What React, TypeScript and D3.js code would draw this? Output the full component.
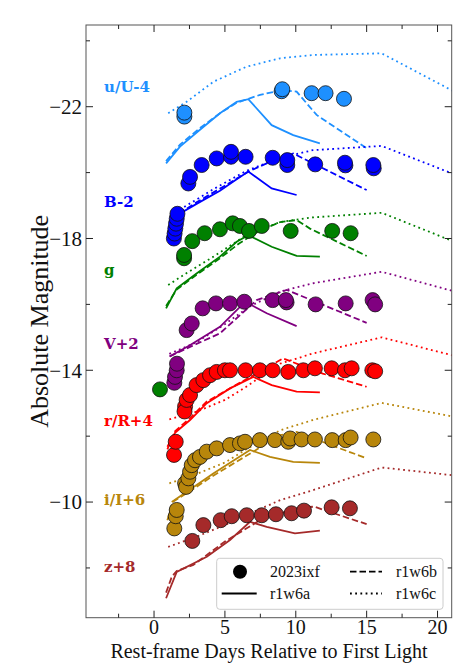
import React, { useEffect, useRef } from 'react';
import * as d3 from 'd3';

type Pt = [number, number];

// observed 2023ixf photometry (day, offset magnitude)
const U_OBS: Pt[] = [[2.14, -21.7], [2.14, -21.82], [9.0, -22.47], [9.05, -22.53], [11.12, -22.41], [12.1, -22.41], [13.4, -22.24]];
const B_OBS: Pt[] = [[1.4, -18.0], [1.45, -18.15], [1.5, -18.3], [1.55, -18.45], [1.6, -18.6], [1.65, -18.75], [2.42, -19.67], [2.54, -19.87], [3.36, -20.23], [4.42, -20.43], [5.43, -20.48], [5.43, -20.63], [6.46, -20.48], [8.37, -20.45], [9.4, -20.23], [9.4, -20.38], [11.37, -20.25], [13.5, -20.22], [13.47, -20.3], [15.5, -20.13], [15.47, -20.23]];
const G_OBS: Pt[] = [[0.42, -13.42], [2.12, -17.4], [2.12, -17.5], [2.7, -17.92], [3.57, -18.16], [4.65, -18.28], [5.55, -18.46], [6.06, -18.38], [6.7, -18.23], [7.6, -18.38], [9.64, -18.23], [12.57, -18.23], [13.87, -18.16]];
const V_OBS: Pt[] = [[1.43, -13.62], [1.48, -13.8], [1.6, -14.0], [1.62, -14.2], [2.3, -15.22], [2.66, -15.42], [3.43, -15.88], [4.37, -16.03], [5.36, -16.03], [6.37, -16.08], [8.37, -16.13], [9.35, -16.06], [9.3, -16.13], [11.4, -16.0], [13.52, -16.03], [15.42, -16.13], [15.6, -16.0]];
const R_OBS: Pt[] = [[1.41, -11.43], [1.53, -11.83], [2.19, -12.9], [2.15, -12.75], [2.3, -13.1], [2.54, -13.25], [3.0, -13.55], [3.48, -13.7], [3.95, -13.85], [4.42, -13.95], [5.0, -14.0], [5.36, -14.0], [6.46, -14.0], [7.47, -14.0], [8.37, -14.0], [9.47, -13.95], [10.53, -14.0], [11.35, -14.06], [12.53, -14.06], [13.47, -14.0], [13.94, -14.06], [15.4, -14.0], [15.6, -13.97]];
const I_OBS: Pt[] = [[1.43, -9.2], [1.53, -9.57], [1.6, -9.76], [2.19, -10.57], [2.26, -10.46], [2.42, -10.72], [2.54, -10.92], [2.66, -11.12], [2.89, -11.27], [3.24, -11.37], [3.72, -11.53], [4.42, -11.63], [5.36, -11.73], [6.06, -11.78], [6.42, -11.83], [7.47, -11.88], [8.53, -11.88], [9.47, -11.83], [9.6, -11.93], [10.41, -11.9], [11.35, -11.9], [12.57, -11.88], [13.52, -11.88], [13.87, -11.96], [15.47, -11.9]];
const Z_OBS: Pt[] = [[2.7, -8.82], [3.48, -9.3], [4.7, -9.45], [5.48, -9.57], [6.54, -9.6], [7.6, -9.6], [8.6, -9.63], [9.7, -9.66], [10.58, -9.74], [12.53, -9.84], [13.82, -9.81]];

// model r1w6a (solid)
const U_A: Pt[] = [[0.85, -20.28], [1.83, -20.79], [3.24, -21.3], [4.65, -21.8], [5.83, -22.15], [6.65, -22.23], [8.3, -21.44], [9.82, -21.14], [11.7, -20.89]];
const B_A: Pt[] = [[1.2, -18.6], [3.0, -19.05], [4.65, -19.45], [5.83, -19.8], [6.65, -20.03], [8.3, -19.52], [10.06, -19.32]];
const G_A: Pt[] = [[0.85, -15.88], [1.6, -16.49], [3.0, -16.94], [4.65, -17.45], [5.83, -17.9], [6.65, -18.1], [8.3, -17.75], [10.06, -17.47], [11.7, -17.45]];
const V_A: Pt[] = [[1.1, -14.42], [2.5, -14.75], [4.65, -15.32], [6.42, -16.08], [7.95, -15.73], [10.06, -15.34]];
const R_A: Pt[] = [[0.94, -11.68], [1.48, -12.1], [2.54, -12.49], [3.72, -13.0], [5.36, -13.45], [7.0, -13.8], [8.3, -13.55], [10.06, -13.35], [11.7, -13.33]];
const I_A: Pt[] = [[1.25, -10.0], [2.77, -10.45], [4.18, -10.87], [6.77, -11.58], [8.18, -11.37], [9.82, -11.22], [11.7, -11.19]];
const Z_A: Pt[] = [[0.85, -7.08], [1.6, -7.88], [3.72, -8.34], [5.36, -8.85], [6.77, -9.4], [7.95, -9.25], [9.94, -9.05], [11.7, -9.13]];

// model r1w6b (dashed)
const U_B: Pt[] = [[0.85, -20.35], [1.83, -20.85], [3.24, -21.35], [4.65, -21.8], [5.83, -22.12], [7.48, -22.36], [9.0, -22.5], [10.06, -22.46], [11.47, -21.75], [15.0, -20.74]];
const B_B: Pt[] = [[1.2, -18.6], [3.0, -19.1], [5.0, -19.6], [6.65, -20.03], [7.95, -20.28], [9.82, -20.58], [15.0, -19.47]];
const G_B: Pt[] = [[0.85, -15.95], [1.6, -16.45], [3.0, -16.9], [4.65, -17.4], [6.0, -17.85], [7.3, -18.2], [8.9, -18.5], [10.06, -18.56], [11.0, -18.3], [15.0, -17.47]];
const V_B: Pt[] = [[1.1, -14.42], [2.54, -14.71], [4.65, -15.12], [7.24, -16.13], [9.36, -16.44], [15.0, -15.44]];
const R_B: Pt[] = [[0.94, -11.6], [1.48, -12.15], [2.54, -12.55], [3.72, -13.05], [5.36, -13.45], [7.0, -13.85], [9.1, -14.36], [11.9, -13.9], [15.0, -13.5]];
const I_B: Pt[] = [[0.94, -9.45], [1.3, -10.0], [2.77, -10.4], [4.18, -10.8], [7.0, -11.53], [8.9, -12.03], [10.06, -12.13], [13.1, -11.63], [15.0, -11.33]];
const Z_B: Pt[] = [[0.85, -7.25], [1.25, -7.73], [1.6, -7.91], [2.77, -8.09], [5.0, -8.8], [7.47, -9.45], [10.06, -9.82], [11.3, -9.86], [13.1, -9.6], [15.0, -9.33]];

// model r1w6c (dotted)
const U_C: Pt[] = [[1.0, -21.8], [2.3, -22.15], [4.2, -22.76], [6.5, -23.21], [8.9, -23.47], [11.2, -23.57], [16.06, -23.62], [22, -22.27]];
const B_C: Pt[] = [[1.2, -18.7], [2.3, -19.0], [4.2, -19.5], [6.5, -20.05], [8.9, -20.45], [11.2, -20.68], [16.06, -20.81], [22, -19.81]];
const G_C: Pt[] = [[1.0, -16.59], [2.3, -16.95], [4.2, -17.45], [6.5, -18.1], [8.9, -18.5], [11.2, -18.64], [16.06, -18.78], [22, -17.76]];
const V_C: Pt[] = [[1.08, -14.5], [3.0, -14.85], [5.0, -15.4], [6.8, -15.95], [8.9, -16.39], [11.2, -16.64], [16.06, -16.99], [22, -16.3]];
const R_C: Pt[] = [[1.08, -12.51], [3.0, -12.74], [5.0, -13.1], [6.5, -13.5], [8.9, -14.2], [11.2, -14.51], [16.06, -15.0], [22, -14.35]];
const I_C: Pt[] = [[1.08, -10.57], [3.0, -10.85], [5.0, -11.2], [6.5, -11.6], [8.9, -12.18], [11.2, -12.49], [16.06, -13.01], [22, -12.52]];
const Z_C: Pt[] = [[1.0, -8.64], [3.0, -8.95], [5.0, -9.3], [6.5, -9.6], [8.9, -10.06], [11.2, -10.36], [16.06, -11.05], [22, -10.77]];

const BAND_LABELS = ['u/U-4', 'B-2', 'g', 'V+2', 'r/R+4', 'i/I+6', 'z+8'];
const BAND_COLORS = ['#1e90ff', '#0000ff', '#008000', '#800080', '#ff0000', '#b8860b', '#a52a2a'];
const BAND_LABEL_MAG = [-22.6, -19.1, -17.05, -14.82, -12.46, -10.07, -8.05];
const OBS = [U_OBS, B_OBS, G_OBS, V_OBS, R_OBS, I_OBS, Z_OBS];
const MOD_A = [U_A, B_A, G_A, V_A, R_A, I_A, Z_A];
const MOD_B = [U_B, B_B, G_B, V_B, R_B, I_B, Z_B];
const MOD_C = [U_C, B_C, G_C, V_C, R_C, I_C, Z_C];

const X_MAJOR = [0, 5, 10, 15, 20];
const X_MINOR = [-2.5, 2.5, 7.5, 12.5, 17.5];
const Y_MAJOR = [-22, -18, -14, -10];
const Y_MINOR = [-24, -20, -16, -12, -8];

const FONT = '"Liberation Serif", "DejaVu Serif", serif';
const BOLD_FONT = '"DejaVu Serif", serif';

const LightCurves: React.FC = () => {
  const svgRef = useRef<SVGSVGElement>(null);
  const width = 474;
  const height = 663;

  useEffect(() => {
    if (!svgRef.current) return;
    const svg = d3.select(svgRef.current);
    svg.selectAll('*').remove();

    const left = 86, right = 451.7, top = 25, bottom = 617.7;
    const x = d3.scaleLinear().domain([-4.8, 21]).range([left, right]);
    const y = d3.scaleLinear().domain([-24.48, -6.49]).range([top, bottom]);

    svg.append('defs').append('clipPath').attr('id', 'plot-clip')
      .append('rect')
      .attr('x', left).attr('y', top)
      .attr('width', right - left).attr('height', bottom - top);

    const plot = svg.append('g').attr('clip-path', 'url(#plot-clip)');

    const line = d3.line<Pt>().x(d => x(d[0])).y(d => y(d[1]));

    const styles = [
      { data: MOD_A, dash: null },
      { data: MOD_B, dash: '6.5,3' },
      { data: MOD_C, dash: '1.8,3.4' },
    ];

    BAND_COLORS.forEach((color, i) => {
      styles.forEach(s => {
        plot.append('path')
          .datum(s.data[i])
          .attr('fill', 'none')
          .attr('stroke', color)
          .attr('stroke-width', 1.8)
          .attr('stroke-dasharray', s.dash)
          .attr('d', line);
      });
      plot.append('g')
        .selectAll('circle')
        .data(OBS[i])
        .join('circle')
        .attr('cx', d => x(d[0]))
        .attr('cy', d => y(d[1]))
        .attr('r', 7.5)
        .attr('fill', color)
        .attr('stroke', '#111')
        .attr('stroke-width', 0.8);
    });

    // band labels
    BAND_LABELS.forEach((lab, i) => {
      svg.append('text')
        .attr('x', 104)
        .attr('y', y(BAND_LABEL_MAG[i]))
        .attr('dy', '0.35em')
        .attr('fill', BAND_COLORS[i])
        .attr('font-family', BOLD_FONT)
        .attr('font-weight', 'bold')
        .attr('font-size', '15px')
        .text(lab);
    });

    // frame
    svg.append('rect')
      .attr('x', left).attr('y', top)
      .attr('width', right - left).attr('height', bottom - top)
      .attr('fill', 'none')
      .attr('stroke', '#555')
      .attr('stroke-width', 1);

    // ticks on all four sides, pointing inward
    const tickG = svg.append('g').attr('stroke', '#222').attr('stroke-width', 1);
    const xt = (vals: number[], len: number) => vals.forEach(v => {
      tickG.append('line').attr('x1', x(v)).attr('x2', x(v)).attr('y1', bottom).attr('y2', bottom - len);
      tickG.append('line').attr('x1', x(v)).attr('x2', x(v)).attr('y1', top).attr('y2', top + len);
    });
    const yt = (vals: number[], len: number) => vals.forEach(v => {
      tickG.append('line').attr('y1', y(v)).attr('y2', y(v)).attr('x1', left).attr('x2', left + len);
      tickG.append('line').attr('y1', y(v)).attr('y2', y(v)).attr('x1', right).attr('x2', right - len);
    });
    xt(X_MAJOR, 7);
    xt(X_MINOR, 4);
    yt(Y_MAJOR, 7);
    yt(Y_MINOR, 4);

    const fmt = (v: number) => (v < 0 ? '\u2212' + Math.abs(v) : String(v));

    svg.append('g').selectAll('text')
      .data(X_MAJOR)
      .join('text')
      .attr('x', d => x(d))
      .attr('y', 634)
      .attr('text-anchor', 'middle')
      .attr('font-family', FONT)
      .attr('font-size', '20px')
      .attr('fill', '#111')
      .text(d => fmt(d));

    svg.append('g').selectAll('text')
      .data(Y_MAJOR)
      .join('text')
      .attr('x', 82)
      .attr('y', d => y(d))
      .attr('dy', '0.35em')
      .attr('text-anchor', 'end')
      .attr('font-family', FONT)
      .attr('font-size', '21px')
      .attr('fill', '#111')
      .text(d => fmt(d));

    svg.append('text')
      .attr('x', 269)
      .attr('y', 658)
      .attr('text-anchor', 'middle')
      .attr('font-family', FONT)
      .attr('font-size', '20px')
      .attr('fill', '#111')
      .text('Rest-frame Days Relative to First Light');

    svg.append('text')
      .attr('transform', `translate(48, ${(top + bottom) / 2}) rotate(-90)`)
      .attr('text-anchor', 'middle')
      .attr('font-family', FONT)
      .attr('font-size', '26px')
      .attr('fill', '#111')
      .text('Absolute Magnitude');

    // legend
    const lg = svg.append('g');
    lg.append('rect')
      .attr('x', 216.7).attr('y', 558.3)
      .attr('width', 226.3).attr('height', 51)
      .attr('rx', 3)
      .attr('fill', 'white').attr('fill-opacity', 0.85)
      .attr('stroke', '#ccc');
    lg.append('circle').attr('cx', 240).attr('cy', 571.7).attr('r', 7).attr('fill', '#000');
    lg.append('line').attr('x1', 221.7).attr('x2', 256.7).attr('y1', 593.5).attr('y2', 593.5)
      .attr('stroke', '#000').attr('stroke-width', 1.8);
    lg.append('line').attr('x1', 350).attr('x2', 382).attr('y1', 571.7).attr('y2', 571.7)
      .attr('stroke', '#000').attr('stroke-width', 1.8).attr('stroke-dasharray', '6.5,3');
    lg.append('line').attr('x1', 350).attr('x2', 382).attr('y1', 593.5).attr('y2', 593.5)
      .attr('stroke', '#000').attr('stroke-width', 1.8).attr('stroke-dasharray', '1.8,3.4');
    const legText = [
      { t: '2023ixf', x: 270, y: 571.7 },
      { t: 'r1w6a', x: 270, y: 593.5 },
      { t: 'r1w6b', x: 396, y: 571.7 },
      { t: 'r1w6c', x: 396, y: 593.5 },
    ];
    legText.forEach(d => {
      lg.append('text')
        .attr('x', d.x).attr('y', d.y).attr('dy', '0.35em')
        .attr('font-family', FONT)
        .attr('font-size', '16px')
        .attr('fill', '#111')
        .text(d.t);
    });
  }, []);

  return <svg ref={svgRef} width={width} height={height} style={{ position: 'absolute', left: 0, top: 0, background: '#fff' }} />;
};

export default function App() {
  return <LightCurves />;
}
